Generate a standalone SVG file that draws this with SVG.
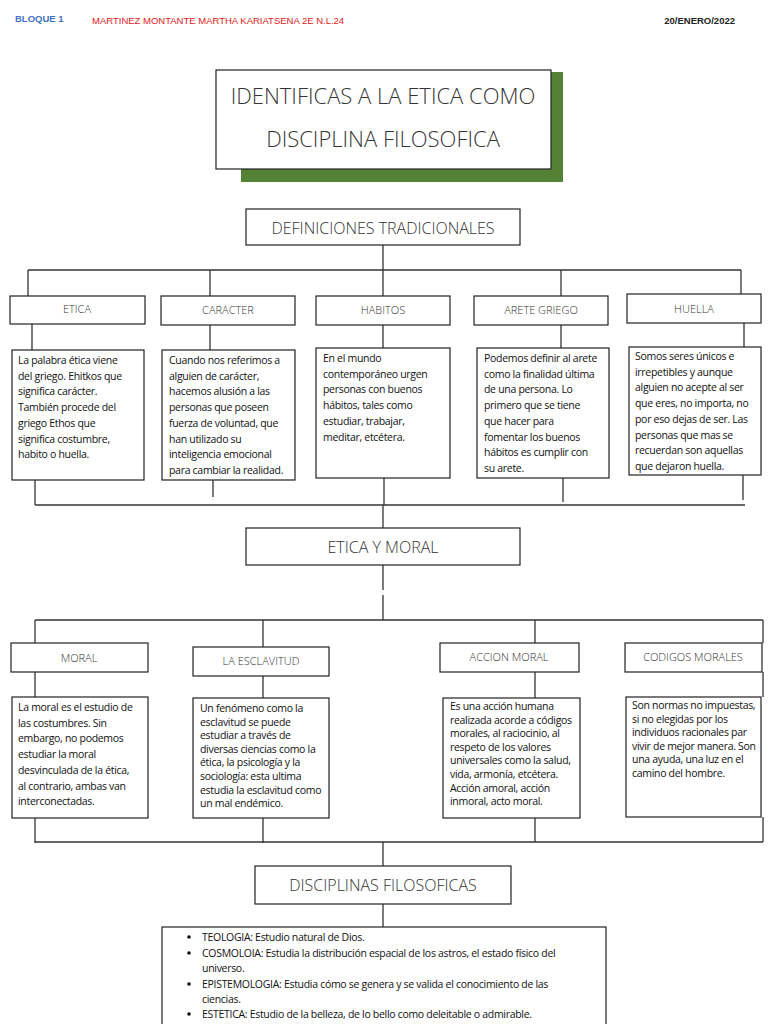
<svg xmlns="http://www.w3.org/2000/svg" width="768" height="1024" viewBox="0 0 768 1024">
<style>
.b{fill:#fff;stroke:#222;stroke-width:1.2}
.h{font-family:"Open Sans","Liberation Sans",sans-serif;font-weight:300;fill:#333;text-anchor:middle}
.t{font-family:"Open Sans","Liberation Sans",sans-serif;font-size:10.5px;fill:#111;letter-spacing:-0.3px}
.c line,.c polyline{stroke:#333;stroke-width:1.3;fill:none}
</style>
<rect width="768" height="1024" fill="#fff"/>
<g id="header" font-family="'Liberation Sans',sans-serif" font-size="9.5px" font-weight="bold">
<text x="15" y="22" fill="#4472c4">BLOQUE 1</text>
<text x="92" y="24" fill="#e02020" font-weight="normal">MARTINEZ MONTANTE MARTHA KARIATSENA 2E N.L.24</text>
<text x="735" y="24" fill="#222" text-anchor="end">20/ENERO/2022</text>
</g>
<g class="c">
<line x1="383" y1="245" x2="383" y2="270"/>
<line x1="28" y1="270" x2="741" y2="270"/>
<line x1="28" y1="270" x2="28" y2="296" stroke-width="2"/>
<line x1="210" y1="270" x2="210" y2="296"/>
<line x1="383" y1="270" x2="383" y2="296"/>
<line x1="561" y1="270" x2="561" y2="296"/>
<line x1="741" y1="270" x2="741" y2="294"/>
<line x1="32" y1="324" x2="32" y2="350"/>
<line x1="210" y1="324" x2="210" y2="350"/>
<line x1="383" y1="325" x2="383" y2="348"/>
<line x1="561" y1="325" x2="561" y2="348"/>
<line x1="744" y1="323" x2="744" y2="347"/>
<line x1="35" y1="480" x2="35" y2="505"/>
<line x1="213" y1="480" x2="213" y2="497"/>
<line x1="384" y1="478" x2="384" y2="505"/>
<line x1="563" y1="478" x2="563" y2="502"/>
<line x1="743" y1="475" x2="743" y2="500"/>
<line x1="35" y1="505" x2="745" y2="505"/>
<line x1="383" y1="505" x2="383" y2="528"/>
<line x1="383" y1="565" x2="383" y2="590"/>
<line x1="383" y1="595" x2="383" y2="620"/>
<line x1="35" y1="620" x2="763" y2="620"/>
<line x1="35" y1="620" x2="35" y2="643"/>
<line x1="263" y1="620" x2="263" y2="647"/>
<line x1="535" y1="620" x2="535" y2="643"/>
<line x1="763" y1="620" x2="763" y2="643"/>
<line x1="35" y1="672" x2="35" y2="697"/>
<line x1="263" y1="676" x2="263" y2="698"/>
<line x1="535" y1="672" x2="535" y2="698"/>
<line x1="763" y1="672" x2="763" y2="697"/>
<line x1="35" y1="818" x2="35" y2="843"/>
<line x1="263" y1="818" x2="263" y2="843"/>
<line x1="535" y1="818" x2="535" y2="842"/>
<line x1="763" y1="817" x2="763" y2="842"/>
<line x1="35" y1="842" x2="763" y2="842"/>
<line x1="383" y1="842" x2="383" y2="866"/>
<line x1="383" y1="904" x2="383" y2="927"/>
</g>
<g id="title">
<rect x="241" y="72" width="322" height="110" fill="#548235"/>
<rect class="b" x="216" y="70" width="335" height="99"/>
<text class="h" x="383" y="104" font-size="22">IDENTIFICAS A LA ETICA COMO</text>
<text class="h" x="383" y="147" font-size="22">DISCIPLINA FILOSOFICA</text>
</g>
<g id="defs-trad"><rect class="b" x="246" y="209" width="274" height="36"/><text class="h" x="383" y="234" font-size="16">DEFINICIONES TRADICIONALES</text></g>
<g id="etica"><rect class="b" x="10" y="296" width="135" height="28"/><text class="h" x="77" y="313" font-size="11">ETICA</text></g>
<g id="caracter"><rect class="b" x="161" y="296" width="134" height="29"/><text class="h" x="228" y="314" font-size="11">CARACTER</text></g>
<g id="habitos"><rect class="b" x="316" y="296" width="134" height="29"/><text class="h" x="383" y="314" font-size="11">HABITOS</text></g>
<g id="arete"><rect class="b" x="474" y="296" width="134" height="29"/><text class="h" x="541" y="314" font-size="11">ARETE GRIEGO</text></g>
<g id="huella"><rect class="b" x="627" y="294" width="134" height="29"/><text class="h" x="694" y="313" font-size="11">HUELLA</text></g>
<g id="d-etica"><rect class="b" x="12" y="350" width="132" height="130"/>
<text class="t" x="18" y="364"><tspan x="18">La palabra ética viene</tspan><tspan x="18" dy="15.7">del griego.  Ehitkos que</tspan><tspan x="18" dy="15.7">significa carácter.</tspan><tspan x="18" dy="15.7">También procede del</tspan><tspan x="18" dy="15.7">griego Ethos que</tspan><tspan x="18" dy="15.7">significa costumbre,</tspan><tspan x="18" dy="15.7">habito o huella.</tspan></text></g>
<g id="d-caracter"><rect class="b" x="162" y="350" width="133" height="130"/>
<text class="t" x="169" y="364"><tspan x="169">Cuando nos referimos a</tspan><tspan x="169" dy="15.7">alguien de carácter,</tspan><tspan x="169" dy="15.7">hacemos alusión a las</tspan><tspan x="169" dy="15.7">personas que poseen</tspan><tspan x="169" dy="15.7">fuerza de voluntad, que</tspan><tspan x="169" dy="15.7">han utilizado su</tspan><tspan x="169" dy="15.7">inteligencia emocional</tspan><tspan x="169" dy="15.7">para cambiar la realidad.</tspan></text></g>
<g id="d-habitos"><rect class="b" x="316" y="348" width="134" height="130"/>
<text class="t" x="323" y="362"><tspan x="323">En el mundo</tspan><tspan x="323" dy="15.7">contemporáneo urgen</tspan><tspan x="323" dy="15.7">personas con buenos</tspan><tspan x="323" dy="15.7">hábitos, tales como</tspan><tspan x="323" dy="15.7">estudiar, trabajar,</tspan><tspan x="323" dy="15.7">meditar, etcétera.</tspan></text></g>
<g id="d-arete"><rect class="b" x="477" y="348" width="132" height="130"/>
<text class="t" x="484" y="362"><tspan x="484">Podemos definir al arete</tspan><tspan x="484" dy="15.7">como la finalidad última</tspan><tspan x="484" dy="15.7">de una persona.  Lo</tspan><tspan x="484" dy="15.7">primero que se tiene</tspan><tspan x="484" dy="15.7">que hacer para</tspan><tspan x="484" dy="15.7">fomentar los buenos</tspan><tspan x="484" dy="15.7">hábitos es cumplir con</tspan><tspan x="484" dy="15.7">su arete.</tspan></text></g>
<g id="d-huella"><rect class="b" x="629" y="347" width="132" height="128"/>
<text class="t" x="635" y="360"><tspan x="635">Somos seres únicos e</tspan><tspan x="635" dy="15.7">irrepetibles y aunque</tspan><tspan x="635" dy="15.7">alguien no acepte al ser</tspan><tspan x="635" dy="15.7">que eres, no importa, no</tspan><tspan x="635" dy="15.7">por eso dejas de ser.  Las</tspan><tspan x="635" dy="15.7">personas que mas se</tspan><tspan x="635" dy="15.7">recuerdan son aquellas</tspan><tspan x="635" dy="15.7">que dejaron huella.</tspan></text></g>
<g id="etica-moral"><rect class="b" x="246" y="528" width="274" height="37"/><text class="h" x="383" y="553" font-size="16">ETICA Y MORAL</text></g>
<g id="moral"><rect class="b" x="11" y="643" width="137" height="29"/><text class="h" x="79" y="662" font-size="11">MORAL</text></g>
<g id="esclavitud"><rect class="b" x="193" y="647" width="136" height="29"/><text class="h" x="261" y="665" font-size="11">LA ESCLAVITUD</text></g>
<g id="accion"><rect class="b" x="440" y="643" width="139" height="29"/><text class="h" x="509" y="661" font-size="11">ACCION MORAL</text></g>
<g id="codigos"><rect class="b" x="625" y="643" width="137" height="29"/><text class="h" x="693" y="661" font-size="11">CODIGOS MORALES</text></g>
<g id="d-moral"><rect class="b" x="12" y="697" width="136" height="121"/>
<text class="t" x="18" y="711"><tspan x="18">La moral es el estudio de</tspan><tspan x="18" dy="15.7">las costumbres.  Sin</tspan><tspan x="18" dy="15.7">embargo, no podemos</tspan><tspan x="18" dy="15.7">estudiar la moral</tspan><tspan x="18" dy="15.7">desvinculada de la ética,</tspan><tspan x="18" dy="15.7">al contrario, ambas van</tspan><tspan x="18" dy="15.7">interconectadas.</tspan></text></g>
<g id="d-esclavitud"><rect class="b" x="193" y="698" width="136" height="120"/>
<text class="t" x="200" y="712" font-size="9px"><tspan x="200">Un fenómeno como la</tspan><tspan x="200" dy="13.6">esclavitud se puede</tspan><tspan x="200" dy="13.6">estudiar a través de</tspan><tspan x="200" dy="13.6">diversas ciencias como la</tspan><tspan x="200" dy="13.6">ética, la psicología y la</tspan><tspan x="200" dy="13.6">sociología: esta ultima</tspan><tspan x="200" dy="13.6">estudia la esclavitud como</tspan><tspan x="200" dy="13.6">un mal endémico.</tspan></text></g>
<g id="d-accion"><rect class="b" x="443" y="698" width="137" height="120"/>
<text class="t" x="450" y="710" font-size="9px"><tspan x="450">Es una acción humana</tspan><tspan x="450" dy="13.6">realizada acorde a códigos</tspan><tspan x="450" dy="13.6">morales, al raciocinio, al</tspan><tspan x="450" dy="13.6">respeto de los valores</tspan><tspan x="450" dy="13.6">universales como la salud,</tspan><tspan x="450" dy="13.6">vida, armonía, etcétera.</tspan><tspan x="450" dy="13.6">Acción amoral, acción</tspan><tspan x="450" dy="13.6">inmoral, acto moral.</tspan></text></g>
<g id="d-codigos"><rect class="b" x="626" y="697" width="135" height="120"/>
<text class="t" x="632" y="709" font-size="9px"><tspan x="632">Son normas no impuestas,</tspan><tspan x="632" dy="13.6">si no elegidas por los</tspan><tspan x="632" dy="13.6">individuos racionales par</tspan><tspan x="632" dy="13.6">vivir de mejor manera. Son</tspan><tspan x="632" dy="13.6">una ayuda, una luz en el</tspan><tspan x="632" dy="13.6">camino del hombre.</tspan></text></g>
<g id="disciplinas"><rect class="b" x="255" y="866" width="256" height="38"/><text class="h" x="383" y="891" font-size="16">DISCIPLINAS FILOSOFICAS</text></g>
<g id="lista"><rect class="b" x="162" y="927" width="444" height="110"/>
<g class="t" font-size="9.5px">
<circle cx="189" cy="937" r="1.8" fill="#111"/><circle cx="189" cy="953" r="1.8" fill="#111"/><circle cx="189" cy="984" r="1.8" fill="#111"/><circle cx="189" cy="1014" r="1.8" fill="#111"/>
<text class="t" x="202" y="941" font-size="9.5px">TEOLOGIA: Estudio natural de Dios.</text>
<text class="t" x="202" y="957" font-size="9.5px">COSMOLOIA: Estudia la distribución espacial de los astros, el estado físico del</text>
<text class="t" x="202" y="972" font-size="9.5px">universo.</text>
<text class="t" x="202" y="988" font-size="9.5px">EPISTEMOLOGIA: Estudia cómo se genera y se valida el conocimiento de las</text>
<text class="t" x="202" y="1003" font-size="9.5px">ciencias.</text>
<text class="t" x="202" y="1018" font-size="9.5px">ESTETICA: Estudio de la belleza, de lo bello como deleitable o admirable.</text>
</g></g>
</svg>
